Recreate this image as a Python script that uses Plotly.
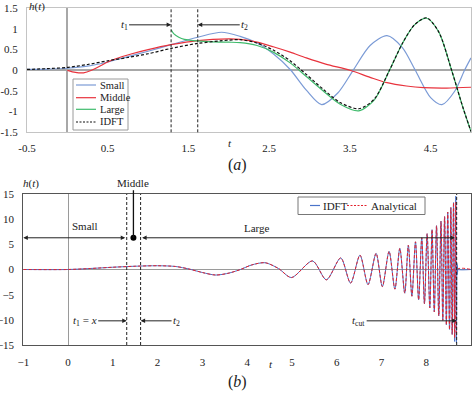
import plotly.graph_objects as go

W, H = 474, 395

# ---------------- Panel (a) data ----------------
t_small = [-0.5, -0.25, 0, 0.25, 0.5, 0.75, 1.0, 1.285, 1.615, 1.91, 2.14, 2.35, 2.55, 2.76, 2.96,
           3.15, 3.35, 3.54, 3.75, 3.96, 4.15, 4.31, 4.5, 4.64, 4.8, 4.92, 5.0]
h_small = [0.02, 0.03, 0.05, 0.1, 0.2, 0.33, 0.46, 0.62, 0.8, 0.92, 0.82, 0.66, 0.4, 0.02, -0.48,
           -0.83, -0.55, 0.0, 0.6, 0.84, 0.55, 0.0, -0.66, -0.83, -0.5, 0.0, 0.3]

t_middle = [0, 0.1, 0.2, 0.3, 0.4, 0.5, 0.6, 0.8, 1.0, 1.285, 1.615, 2.0, 2.14, 2.35, 2.55, 2.76,
            2.96, 3.2, 3.5, 3.75, 3.96, 4.2, 4.41, 4.7, 5.0]
h_middle = [0, -0.05, -0.06, 0.0, 0.1, 0.2, 0.28, 0.4, 0.5, 0.62, 0.72, 0.76, 0.75, 0.68, 0.57, 0.44,
            0.3, 0.15, 0.0, -0.17, -0.3, -0.38, -0.42, -0.43, -0.41]

t_large = [1.285, 1.32, 1.38, 1.45, 1.615, 1.8, 2.0, 2.14, 2.35, 2.55, 2.76, 2.96, 3.17, 3.38, 3.61,
           3.8, 3.99, 4.15, 4.3, 4.45, 4.6, 4.76, 4.9, 5.0]
h_large = [0.98, 0.88, 0.8, 0.75, 0.71, 0.69, 0.68, 0.67, 0.6, 0.44, 0.18, -0.15, -0.5, -0.82, -0.98,
           -0.72, 0.0, 0.65, 1.1, 1.26, 0.93, 0.0, -0.9, -1.48]

t_idft_a = [-0.5, -0.25, 0, 0.25, 0.5, 0.75, 1.0, 1.285, 1.615, 2.0, 2.14, 2.35, 2.55, 2.76, 2.96,
            3.17, 3.38, 3.61, 3.8, 3.99, 4.15, 4.3, 4.45, 4.6, 4.76, 4.9, 5.0]
h_idft_a = [0.02, 0.04, 0.07, 0.14, 0.23, 0.31, 0.4, 0.53, 0.65, 0.73, 0.74, 0.66, 0.49, 0.23, -0.1,
            -0.46, -0.78, -0.93, -0.7, 0.0, 0.65, 1.1, 1.27, 0.93, 0.0, -0.9, -1.48]

xticks_a = [-0.5, 0.5, 1.5, 2.5, 3.5, 4.5]
yticks_a = [-1.5, -1, -0.5, 0, 0.5, 1, 1.5]
t1_a, t2_a = 1.285, 1.615

# ---------------- Panel (b) data ----------------
t_b = [-1, 0, 0.5, 1.0, 1.5, 2.0, 2.4, 2.7, 3.0, 3.3, 3.6, 3.85, 4.1, 4.4, 4.7, 4.99, 5.46, 5.77,
       6.09, 6.31, 6.52, 6.7, 6.88, 7.02, 7.17, 7.3, 7.41, 7.52, 7.6, 7.68, 7.76, 7.83, 7.9, 7.96,
       8.02, 8.08, 8.13, 8.18, 8.23, 8.28, 8.33, 8.37, 8.41, 8.45, 8.48, 8.52, 8.55, 8.58, 8.61]
h_b = [0, 0, 0.2, 0.45, 0.65, 0.75, 0.6, 0.1, -0.6, -1.1, -0.7, 0.0, 0.9, 1.35, 0.2, -1.6, 1.7, -2.05,
       2.3, -2.7, 2.85, -3.0, 3.2, -3.4, 3.6, -3.9, 4.2, -4.7, 4.8, -5.3, 5.5, -6.0, 6.3, -6.8,
       7.1, -7.6, 7.9, -8.4, 8.7, -9.2, 9.6, -10.1, 10.5, -11.0, 11.4, -11.9, 12.3, -12.9, 13.3]
t_idft_tail = [8.635, 8.66, 8.675, 8.685, 8.69, 8.695, 8.70, 8.71, 8.72, 9.0]
h_idft_tail = [-14.3, 14.6, -14.6, 1.2, -1.0, 0.8, -0.5, 0.2, 0.0, 0.0]
t_ana_tail = [8.635, 8.66, 8.675, 8.685, 9.0]
h_ana_tail = [-13.6, 13.4, -13.0, 0.0, 0.0]

xticks_b = list(range(-1, 10))
yticks_b = [-15, -10, -5, 0, 5, 10, 15]
t1_b, t2_b, tcut_b = 1.31, 1.62, 8.68
t_mid_b, h_mid_b = 1.46, 6.3
h_arrow_b = 6.3
t_large_end = 8.64
h_cut_arrow = -10.2

SERIF = "Liberation Serif"
BLUE_A, RED_A, GREEN_A = "#7b9bd6", "#e8333d", "#3fbb6c"
BLUE_B, RED_B = "#4a74c9", "#e3222e"

fig = go.Figure()


def add(x, y, color, dash, xa, ya, width=1.2):
    fig.add_trace(go.Scatter(x=x, y=y, mode="lines", xaxis=xa, yaxis=ya, showlegend=False,
                             hoverinfo="skip",
                             line=dict(color=color, width=width, dash=dash, shape="spline",
                                       smoothing=0.8)))


add(t_small, h_small, BLUE_A, "solid", "x", "y")
add(t_middle, h_middle, RED_A, "solid", "x", "y")
add(t_large, h_large, GREEN_A, "solid", "x", "y")
add(t_idft_a, h_idft_a, "#111111", "3px,2px", "x", "y")

add(t_b + t_idft_tail, h_b + h_idft_tail, BLUE_B, "solid", "x2", "y2", 1.0)
add(t_b + t_ana_tail, h_b + h_ana_tail, RED_B, "3px,2px", "x2", "y2", 1.0)

fig.add_trace(go.Scatter(x=[t_mid_b], y=[h_mid_b], mode="markers", xaxis="x2", yaxis="y2",
                         marker=dict(color="black", size=6), showlegend=False, hoverinfo="skip"))


def px(x):
    return x / W


def py(y):
    return 1 - y / H


axis_common = dict(showgrid=False, zeroline=True, showline=True, mirror=True, ticks="",
                   automargin=False, tickfont=dict(family=SERIF, size=11, color="#222"))

fig.update_layout(
    template="none",
    width=W, height=H, autosize=False,
    margin=dict(l=0, r=0, t=0, b=0, pad=0),
    paper_bgcolor="white", plot_bgcolor="white",
    showlegend=False,
    xaxis=dict(domain=[px(27), px(471)], range=[-0.5, 5], tickvals=xticks_a,
               ticktext=[f"{v:g}" for v in xticks_a], anchor="y",
               zerolinecolor="#a8a8a8", zerolinewidth=1.6, linecolor="#c4c4c4",
               ticklabelstandoff=5, **axis_common),
    yaxis=dict(domain=[py(132.3), py(8.3)], range=[-1.5, 1.5], tickvals=yticks_a,
               ticktext=[f"{v:g}" for v in yticks_a], anchor="x",
               zerolinecolor="#a8a8a8", zerolinewidth=1.6, linecolor="#c4c4c4",
               ticklabelstandoff=6, **axis_common),
    xaxis2=dict(domain=[px(23.3), px(471)], range=[-1, 9], tickvals=xticks_b, anchor="y2",
                zerolinecolor="#9a9a9a", zerolinewidth=1, linecolor="#555",
                ticklabelstandoff=7, **axis_common),
    yaxis2=dict(domain=[py(345), py(194)], range=[-15, 15], tickvals=yticks_b, anchor="x2",
                zerolinecolor="#9a9a9a", zerolinewidth=1, linecolor="#555",
                ticklabelstandoff=6, **axis_common),
)

shapes = []
for t in (t1_a, t2_a):
    shapes.append(dict(type="line", xref="x", yref="y domain", x0=t, x1=t, y0=0, y1=1,
                       line=dict(color="#222", width=1, dash="3px,2px")))
for t in (t1_b, t2_b, tcut_b):
    shapes.append(dict(type="line", xref="x2", yref="y2 domain", x0=t, x1=t, y0=0, y1=1,
                       line=dict(color="#222", width=1, dash="3px,2px")))

# manual legend (a)
shapes.append(dict(type="rect", xref="paper", yref="paper", x0=px(73), x1=px(128), y0=py(130),
                   y1=py(79), line=dict(color="#9a9a9a", width=1), fillcolor="white", layer="above"))
leg_a = [("Small", BLUE_A, "solid", 85), ("Middle", RED_A, "solid", 97.7),
         ("Large", GREEN_A, "solid", 109.3), ("IDFT", "#111", "2px,1.5px", 122)]
annotations = []
for name, col, dash, yy in leg_a:
    shapes.append(dict(type="line", xref="paper", yref="paper", x0=px(76), x1=px(96), y0=py(yy),
                       y1=py(yy), line=dict(color=col, width=1.2, dash=dash), layer="above"))
    annotations.append(dict(xref="paper", yref="paper", x=px(97.5), y=py(yy), text=name,
                            showarrow=False, xanchor="left", yanchor="middle",
                            font=dict(family=SERIF, size=10.5, color="#222")))

# manual legend (b)
shapes.append(dict(type="rect", xref="paper", yref="paper", x0=px(298), x1=px(425), y0=py(214.5),
                   y1=py(197), line=dict(color="#777", width=1), fillcolor="white", layer="above"))
shapes.append(dict(type="line", xref="paper", yref="paper", x0=px(310), x1=px(320), y0=py(205.5),
                   y1=py(205.5), line=dict(color=BLUE_B, width=1.2), layer="above"))
shapes.append(dict(type="line", xref="paper", yref="paper", x0=px(347), x1=px(368), y0=py(205.5),
                   y1=py(205.5), line=dict(color=RED_B, width=1.2, dash="2px,1.5px"), layer="above"))
annotations.append(dict(xref="paper", yref="paper", x=px(321), y=py(205.5), text="IDFT",
                        showarrow=False, xanchor="left", yanchor="middle",
                        font=dict(family=SERIF, size=11, color="#222")))
annotations.append(dict(xref="paper", yref="paper", x=px(369), y=py(205.5), text="Analytical",
                        showarrow=False, xanchor="left", yanchor="middle",
                        font=dict(family=SERIF, size=11, color="#222")))

TXT = dict(family=SERIF, size=11, color="#222")
ARW = dict(showarrow=True, arrowhead=2, arrowsize=0.9, arrowwidth=1, arrowcolor="#222", standoff=0)
C = dict(xanchor="center", yanchor="middle")

# panel (a) text
annotations += [
    dict(xref="paper", yref="paper", x=px(37), y=py(6.5), text="<i>h</i>(<i>t</i>)", showarrow=False,
         font=TXT, **C),
    dict(xref="x", yref="paper", x=2.01, y=py(143), text="<i>t</i>", showarrow=False, font=TXT, **C),
    dict(xref="paper", yref="paper", x=px(237), y=py(165), text="(<i>a</i>)", showarrow=False,
         font=dict(family=SERIF, size=16, color="#222"), **C),
    dict(xref="x", yref="y", x=t1_a, y=1.1, ax=-47, ay=0, text="<i>t</i><sub>1</sub>", font=TXT, **ARW),
    dict(xref="x", yref="y", x=t2_a, y=1.1, ax=47, ay=0, text="<i>t</i><sub>2</sub>", font=TXT, **ARW),
]

# panel (b) text
annotations += [
    dict(xref="paper", yref="paper", x=px(31), y=py(183), text="<i>h</i>(<i>t</i>)", showarrow=False,
         font=TXT, **C),
    dict(xref="x2", yref="paper", x=4.53, y=py(364), text="<i>t</i>", showarrow=False, font=TXT, **C),
    dict(xref="paper", yref="paper", x=px(237), y=py(382), text="(<i>b</i>)", showarrow=False,
         font=dict(family=SERIF, size=16, color="#222"), **C),
    dict(xref="x2", yref="y2", x=t_mid_b, y=h_mid_b, ax=0, ay=-55, text="Middle", font=TXT,
         showarrow=True, arrowhead=0, arrowwidth=1.3, arrowcolor="#111", standoff=0),
    dict(xref="x2", yref="y2", x=-1, y=h_arrow_b, axref="x2", ayref="y2", ax=t1_b, ay=h_arrow_b,
         text="", arrowside="end+start", **ARW),
    dict(xref="x2", yref="y2", x=t_large_end, y=h_arrow_b, axref="x2", ayref="y2", ax=t2_b,
         ay=h_arrow_b, text="", arrowside="end+start", **ARW),
    dict(xref="x2", yref="y2", x=0.38, y=8.64, text="Small", showarrow=False, font=TXT, **C),
    dict(xref="x2", yref="y2", x=4.22, y=8.24, text="Large", showarrow=False, font=TXT, **C),
    dict(xref="x2", yref="y2", x=tcut_b, y=h_cut_arrow, ax=-98, ay=0,
         text="<i>t</i><sub>cut</sub>", font=TXT, **ARW),
    dict(xref="x2", yref="y2", x=t1_b, y=h_cut_arrow, ax=-42, ay=0,
         text="<i>t</i><sub>1</sub> = <i>x</i>", font=TXT, **ARW),
    dict(xref="x2", yref="y2", x=t2_b, y=h_cut_arrow, ax=36, ay=0,
         text="<i>t</i><sub>2</sub>", font=TXT, **ARW),
]

fig.update_layout(shapes=shapes, annotations=annotations)

fig.write_html("out.html", config={"displayModeBar": False},
               post_script="document.body.style.margin='0';document.body.style.overflow='hidden';")
